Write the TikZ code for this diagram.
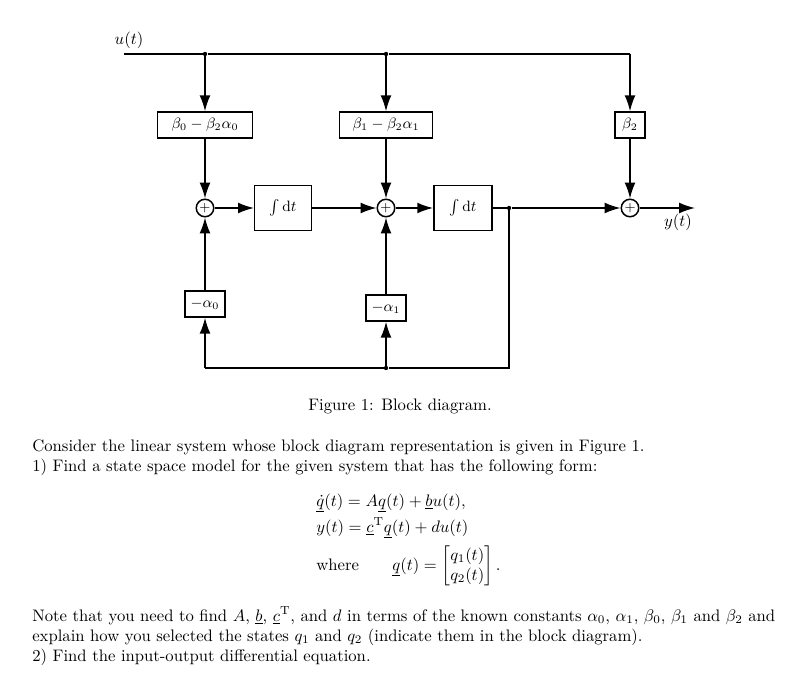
\documentclass[tikz,border=0pt]{standalone}
\usepackage{amsmath}
\usetikzlibrary{arrows.meta}
\begin{document}
\begin{tikzpicture}[x=0.6pt,y=-0.6pt,
  blk/.style={draw,line width=0.9pt,minimum height=15.6pt,inner sep=2pt,font=\small},
  sum/.style={draw,circle,line width=0.9pt,minimum size=10.5pt,inner sep=0pt,font=\footnotesize},
  dot/.style={circle,fill,inner sep=0pt,minimum size=2.6pt},
  arr/.style={line width=0.9pt,-{Latex[length=9.5pt,width=6.5pt]}},
  ln/.style={line width=0.9pt},
  txt/.style={anchor=base west,inner sep=0pt}]
\useasboundingbox (0,0) rectangle (803,687);
% top
\node[anchor=base] (u) at (129,45) {$u(t)$};
\coordinate (us) at (124,54);
\node[dot] (d1) at (205,54) {};
\node[dot] (d2) at (386,54) {};
\coordinate (c3) at (630,54);
\node[blk,minimum width=57pt] (b0) at (205,125) {$\beta_0-\beta_2\alpha_0$};
\node[blk,minimum width=56pt] (b1) at (386,125) {$\beta_1-\beta_2\alpha_1$};
\node[blk,minimum width=18pt] (b2) at (630,125) {$\beta_2$};
\node[sum] (s1) at (205,208) {$+$};
\node[sum] (s2) at (386,208) {$+$};
\node[sum] (s3) at (630,208) {$+$};
\node[blk,minimum width=34pt,minimum height=27pt] (i1) at (283,208) {$\int\mathrm{d}t$};
\node[blk,minimum width=35pt,minimum height=27pt] (i2) at (463,208) {$\int\mathrm{d}t$};
\node[dot] (d3) at (509,208) {};
\coordinate (yo) at (695,208);
\node[anchor=base] (y) at (678,227) {$y(t)$};
\node[blk,minimum width=24pt] (a0) at (205,304) {$-\alpha_0$};
\node[blk,minimum width=24pt] (a1) at (386,308) {$-\alpha_1$};
\coordinate (bl) at (205,368);
\node[dot] (d4) at (386,368) {};
\coordinate (br) at (509,368);
\draw[ln] (us) -- (d1) -- (d2) -- (c3);
\draw[arr] (d1) -- (b0);
\draw[arr] (d2) -- (b1);
\draw[arr] (c3) -- (b2);
\draw[arr] (b0) -- (s1);
\draw[arr] (b1) -- (s2);
\draw[arr] (b2) -- (s3);
\draw[arr] (s1) -- (i1);
\draw[arr] (i1) -- (s2);
\draw[arr] (s2) -- (i2);
\draw[ln] (i2) -- (d3);
\draw[arr] (d3) -- (s3);
\draw[arr] (s3) -- (yo);
\draw[ln] (d3) -- (br) -- (d4) -- (bl);
\draw[arr] (bl) -- (a0);
\draw[arr] (d4) -- (a1);
\draw[arr] (a0) -- (s1);
\draw[arr] (a1) -- (s2);
% caption and text
\node[anchor=base] (cap) at (400,410) {Figure 1: Block diagram.};
\node[txt] (t1) at (32,451) {Consider the linear system whose block diagram representation is given in Figure 1.};
\node[txt] (t2) at (32,471) {1) Find a state space model for the given system that has the following form:};
\node[txt] (e1) at (316,506) {$\underline{\dot q}(t)=A\underline{q}(t)+\underline{b}u(t),$};
\node[txt] (e2) at (316,532) {$y(t)=\underline{c}^{\mathrm{T}}\underline{q}(t)+du(t)$};
\node[anchor=west,inner sep=0pt] (e3) at (316,566) {where\qquad$\underline{q}(t)=\begin{bmatrix}q_1(t)\\ q_2(t)\end{bmatrix}.$};
\node[txt] (t3) at (32,621) {Note that you need to find $A$, $\underline{b}$, $\underline{c}^{\mathrm{T}}$, and $d$ in terms of the known constants $\alpha_0$, $\alpha_1$, $\beta_0$, $\beta_1$ and $\beta_2$ and};
\node[txt] (t4) at (32,641) {explain how you selected the states $q_1$ and $q_2$ (indicate them in the block diagram).};
\node[txt] (t5) at (32,661) {2) Find the input-output differential equation.};
\end{tikzpicture}
\end{document}
